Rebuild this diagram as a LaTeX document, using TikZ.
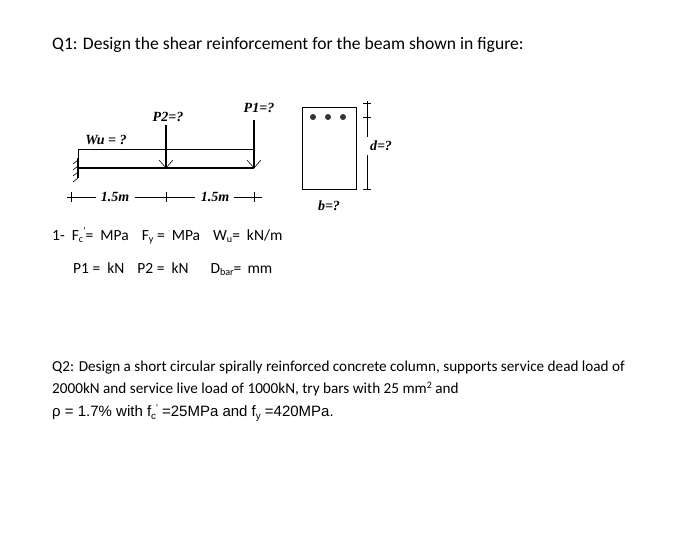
\documentclass[tikz,border=0pt]{standalone}
\usepackage{fontspec}
\setmainfont{Carlito}
\newfontfamily\tms{Liberation Serif}
\newfontfamily\arl{Liberation Sans}
\newcommand{\sbs}[1]{\raisebox{-0.35ex}{\scalebox{0.65}{#1}}}
\newcommand{\sps}[1]{\raisebox{0.7ex}{\scalebox{0.65}{#1}}}
\newcommand{\gp}{\hspace{7pt}}
\begin{document}
\begin{tikzpicture}[x=1pt,y=-1pt,
  lbl/.style={font=\tms\bfseries\itshape\fontsize{14}{16}\selectfont, inner sep=0},
  txt/.style={anchor=west, inner sep=0},
  ld/.style={line width=1.3pt},
  thin/.style={line width=0.6pt}]
\useasboundingbox (0,0) rectangle (700,559);
\node[txt, font=\fontsize{17.6}{20}\selectfont] (t1) at (52,45) {Q1: Design the shear reinforcement for the beam shown in figure:};
% beam
\coordinate (bl) at (78,168); \coordinate (br) at (254,168);
\draw[line width=2pt] (bl) -- (br);
\draw[thin] (78,168) -- (78,149) -- (254,149) -- (254,168);
\draw[line width=1.2pt] (78,158) -- (78,178);
\foreach \y in {160,166,172,178} \draw[thin] (78,\y) -- (73,\y+4);
\coordinate (p2t) at (166,125); \coordinate (p2b) at (166,168);
\coordinate (p1t) at (254,120); \coordinate (p1b) at (254,168);
\draw[ld] (p2t) -- (p2b); \draw[ld] (p1t) -- (p1b);
\draw[thin] (159,160) -- (166,168) -- (173,160);
\draw[thin] (247,160) -- (254,168) -- (261,160);
\node[lbl] (p2) at (168,117) {P2=?};
\node[lbl] (p1) at (259,108) {P1=?};
\node[lbl] (wu) at (106,140) {Wu = ?};
% dimension
\draw[thin] (67,197) -- (96,197);
\draw[thin] (135,197) -- (195,197);
\draw[thin] (234,197) -- (262,197);
\foreach \x in {71,166,254} \draw[thin] (\x,192) -- (\x,202);
\node[lbl] (d1) at (115,197) {1.5m};
\node[lbl] (d2) at (215,197) {1.5m};
% section
\draw[thin] (302,107) rectangle (356,189);
\foreach \x in {313,328,343} \fill[black!80] (\x,117) circle (3pt);
\draw[thin] (367,101) -- (367,137); \draw[thin] (367,155) -- (367,189);
\foreach \y in {103,117,189} \draw[thin] (363,\y) -- (371,\y);
\node[lbl] (dd) at (381,146) {d=?};
\node[lbl] (bb) at (329,206) {b=?};
% data lines
\node[txt, font=\fontsize{15.5}{18}\selectfont] (l1) at (52,236) {1-\gp F\sbs{c}\sps{'}=\gp MPa\gp\, F\sbs{y} =\gp MPa\gp\, W\sbs{u}=\gp kN/m};
\node[txt, font=\fontsize{15.5}{18}\selectfont] (l2) at (73,269) {P1 =\gp kN\gp\, P2 =\gp kN\hspace{22pt}D\sbs{bar}=\, mm};
% Q2
\node[txt, font=\fontsize{15.2}{18}\selectfont] (q2a) at (52,368) {Q2: Design a short circular spirally reinforced concrete column, supports service dead load of};
\node[txt, font=\fontsize{15.2}{18}\selectfont] (q2b) at (52,389) {2000kN and service live load of 1000kN, try bars with 25 mm\sps{2} and};
\node[txt, font=\arl\fontsize{15}{18}\selectfont] (q2c) at (52,413) {ρ = 1.7\% with f\sbs{c}\sps{'} =25MPa and f\sbs{y} =420MPa.};
\end{tikzpicture}
\end{document}
